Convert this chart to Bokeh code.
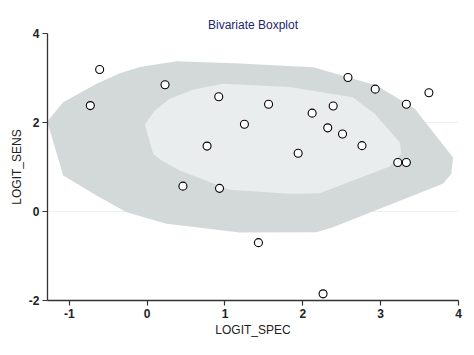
from bokeh.plotting import figure
from bokeh.models import Range1d, FixedTicker, Title
from bokeh.embed import file_html
from bokeh.resources import INLINE

# data
logit_spec = [-0.61, -0.73, 0.23, 0.92, 0.77, 0.46, 0.93, 1.56, 1.25, 2.12, 2.39,
              2.58, 2.93, 3.33, 3.62, 2.32, 2.51, 2.76, 1.94, 3.22, 3.33, 1.43, 2.26]
logit_sens = [3.19, 2.38, 2.85, 2.58, 1.47, 0.57, 0.52, 2.41, 1.96, 2.21, 2.37,
              3.01, 2.75, 2.41, 2.67, 1.88, 1.74, 1.48, 1.31, 1.10, 1.10, -0.70, -1.85]

# outer region (fence) of the bivariate boxplot
fence_x = [-1.284, -1.078, -0.650, -0.350, -0.094, 0.377, 1.19, 2.136, 2.949, 3.436,
           3.93, 3.908, 3.80, 2.388, 2.175, 1.19, 0.249, -0.264, -0.650, -1.078]
fence_y = [2.02, 2.456, 2.870, 3.108, 3.247, 3.378, 3.326, 3.243, 2.831, 2.315,
           1.213, 0.847, 0.622, -0.353, -0.465, -0.472, -0.276, -0.016, 0.36, 0.809]
# inner region (hinge)
hinge_x = [-0.030, 0.099, 0.291, 0.590, 0.976, 1.832, 2.641, 2.923, 3.244, 3.266,
           3.115, 2.217, 1.832, 1.062, 0.42, 0.185, 0.077]
hinge_y = [1.955, 2.27, 2.533, 2.735, 2.870, 2.798, 2.569, 2.196, 1.557, 1.297,
           1.011, 0.411, 0.398, 0.488, 0.921, 1.146, 1.297]

x_ticks = [-1, 0, 1, 2, 3, 4]
x_tick_labels = ["-1", "0", "1", "2", "3", "4"]
y_ticks = [-2, 0, 2, 4]
y_tick_labels = ["-2", "0", "2", "4"]

FONT = "Liberation Sans"

p = figure(width=474, height=355, output_backend="svg", toolbar_location=None,
           x_range=Range1d(-1.28, 4.0), y_range=Range1d(-2.0, 4.0),
           min_border_left=47, min_border_right=16, min_border_top=33,
           min_border_bottom=55)
p.outline_line_color = None
p.background_fill_color = "white"
p.border_fill_color = "white"

t = Title(text="Bivariate Boxplot", align="center", text_font=FONT,
          text_font_size="12px", text_font_style="normal",
          text_color="#1c2670", standoff=4)
p.add_layout(t, "above")

p.patch(fence_x, fence_y, fill_color="#d3d9d9", line_color=None)
p.patch(hinge_x, hinge_y, fill_color="#e9eded", line_color=None)

p.scatter(logit_spec, logit_sens, size=8, marker="circle", fill_color="white",
          line_color="black", line_width=1.1)

p.xgrid.grid_line_color = None
p.ygrid.grid_line_color = "#eef1f1"
p.ygrid.ticker = FixedTicker(ticks=y_ticks)
p.grid.level = "underlay"

for ax in (p.xaxis[0], p.yaxis[0]):
    ax.axis_line_color = "#333333"
    ax.axis_line_width = 1.3
    ax.major_tick_line_color = "#333333"
    ax.major_tick_line_width = 1.2
    ax.major_tick_out = 5
    ax.major_tick_in = 0
    ax.minor_tick_line_color = None
    ax.major_label_text_font = FONT
    ax.major_label_text_font_size = "12px"
    ax.major_label_text_font_style = "bold"
    ax.major_label_text_color = "#222222"
    ax.axis_label_text_font = FONT
    ax.axis_label_text_font_size = "12px"
    ax.axis_label_text_font_style = "normal"
    ax.axis_label_text_color = "#222222"

p.xaxis.ticker = FixedTicker(ticks=x_ticks)
p.yaxis.ticker = FixedTicker(ticks=y_ticks)
p.xaxis.major_label_overrides = dict(zip(x_ticks, x_tick_labels))
p.yaxis.major_label_overrides = dict(zip(y_ticks, y_tick_labels))
p.xaxis.axis_label = "LOGIT_SPEC"
p.yaxis.axis_label = "LOGIT_SENS"
p.xaxis.major_label_standoff = 3
p.yaxis.major_label_standoff = 3
p.xaxis.axis_label_standoff = 2
p.yaxis.axis_label_standoff = 2
p.yaxis.major_label_orientation = "horizontal"

open("out.html", "w").write(file_html(p, INLINE))
